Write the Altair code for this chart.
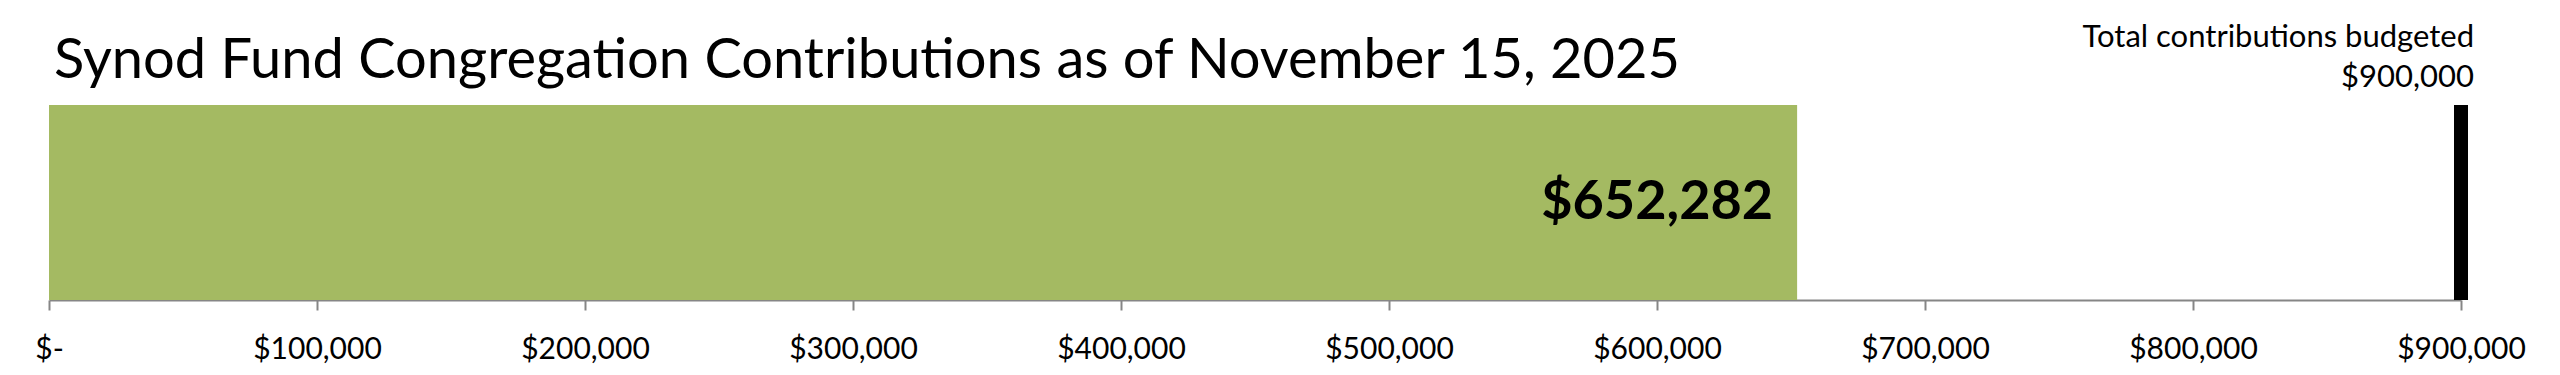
import altair as alt
import pandas as pd

# ---- data ----
title_text = "Synod Fund Congregation Contributions as of November 15, 2025"
contributed = [652282]
contributed_label = ["$652,282"]
budgeted = [900000]
budget_line1 = ["Total contributions budgeted"]
budget_line2 = ["$900,000"]
tick_values = [0, 100000, 200000, 300000, 400000, 500000, 600000, 700000, 800000, 900000]

W, H = 2412, 195
FONT = "Lato"
GREEN = "#A4BA62"
GREY = "#868686"

df_bar = pd.DataFrame({"start": [0], "amount": contributed, "label": contributed_label})
df_budget = pd.DataFrame({"budget": budgeted, "l1": budget_line1, "l2": budget_line2})
df_title = pd.DataFrame({"t": [title_text]})

x_scale = alt.Scale(domain=[0, max(tick_values)], nice=False, zero=True)
x_axis = alt.Axis(
    values=tick_values,
    labelExpr="datum.value == 0 ? '$-\u00a0\u00a0\u00a0' : '$' + format(datum.value, ',')",
    grid=False,
    domainColor=GREY,
    domainWidth=2,
    tickColor=GREY,
    tickWidth=2,
    tickSize=10,
    labelFont=FONT,
    labelFontSize=30,
    labelColor="black",
    labelBaseline="alphabetic",
    labelPadding=48,
    labelFlush=False,
    labelOverlap=False,
    title=None,
)

bar = alt.Chart(df_bar).mark_rect(color=GREEN).encode(
    x=alt.X("start:Q", scale=x_scale, axis=x_axis),
    x2="amount:Q",
    y=alt.value(0),
    y2=alt.value(H),
)

bar_text = alt.Chart(df_bar).mark_text(
    font=FONT, fontWeight="bold", fontSize=54, align="right", baseline="middle", dx=-24, color="black"
).encode(x="amount:Q", y=alt.value(H / 2), text="label:N")

rule = alt.Chart(df_budget).mark_rule(color="black", strokeWidth=14).encode(
    x="budget:Q", y=alt.value(0), y2=alt.value(H)
)

b1 = alt.Chart(df_budget).mark_text(
    font=FONT, fontSize=31, align="right", baseline="alphabetic", dx=13, color="black"
).encode(x="budget:Q", y=alt.value(-58), text="l1:N")

b2 = alt.Chart(df_budget).mark_text(
    font=FONT, fontSize=31, align="right", baseline="alphabetic", dx=13, color="black"
).encode(x="budget:Q", y=alt.value(-18), text="l2:N")

title = alt.Chart(df_title).mark_text(
    font=FONT, fontSize=56, align="left", baseline="alphabetic", color="black"
).encode(x=alt.value(5), y=alt.value(-27), text="t:N")

chart = (
    alt.layer(bar, bar_text, rule, b1, b2, title)
    .properties(
        width=W,
        height=H,
        autosize=alt.AutoSizeParams(type="none"),
        padding={"left": 49, "top": 105, "right": 99, "bottom": 75},
        background="white",
    )
    .configure_view(stroke=None)
)

chart.save("out.html", embed_options={"renderer": "svg", "actions": False})
